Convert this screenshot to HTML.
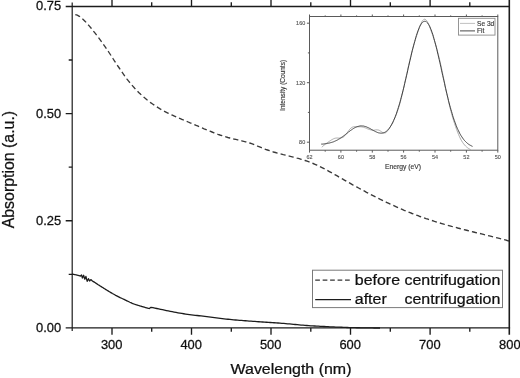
<!DOCTYPE html>
<html lang="en">
<head>
<meta charset="utf-8">
<title>Absorption spectrum</title>
<style>
html,body{margin:0;padding:0;background:#fff;}
body{width:520px;height:378px;overflow:hidden;}
svg{display:block;filter:blur(0.3px);font-family:"Liberation Sans",Arial,Helvetica,sans-serif;}
</style>
</head>
<body>
<svg width="520" height="378" viewBox="0 0 520 378">
<rect width="520" height="378" fill="#fff"/>
<g stroke="#1c1c1c" stroke-width="1.2" fill="none" stroke-linecap="butt">
<path d="M72.2,2.4 V330.9 M65.7,327.9 H510.1"/>
<path d="M65.7,6.4 H509.6" stroke-width="1.5"/>
<path d="M509.3,334.7 V0" stroke-width="1.6"/>
<path d="M112.0,327.9 v6.8 M112.0,6.4 V0 M191.5,327.9 v6.8 M191.5,6.4 V0 M271.0,327.9 v6.8 M271.0,6.4 V0 M350.5,327.9 v6.8 M350.5,6.4 V0 M430.1,327.9 v6.8 M430.1,6.4 V0 M151.7,327.9 v3.8 M151.7,6.4 v-4.1 M231.3,327.9 v3.8 M231.3,6.4 v-4.1 M310.8,327.9 v3.8 M310.8,6.4 v-4.1 M390.3,327.9 v3.8 M390.3,6.4 v-4.1 M469.8,327.9 v3.8 M469.8,6.4 v-4.1 M72.2,220.7 h-6.5 M72.2,113.6 h-6.5 M72.2,274.3 h-3.5 M72.2,167.1 h-3.5 M72.2,60.0 h-3.5" stroke-width="1.35"/>
</g>
<text transform="translate(111.7,348.8) scale(1.06,1)" font-size="12.2" text-anchor="middle" fill="#111" stroke="#111" stroke-width="0.25">300</text>
<text transform="translate(191.2,348.8) scale(1.06,1)" font-size="12.2" text-anchor="middle" fill="#111" stroke="#111" stroke-width="0.25">400</text>
<text transform="translate(270.7,348.8) scale(1.06,1)" font-size="12.2" text-anchor="middle" fill="#111" stroke="#111" stroke-width="0.25">500</text>
<text transform="translate(350.2,348.8) scale(1.06,1)" font-size="12.2" text-anchor="middle" fill="#111" stroke="#111" stroke-width="0.25">600</text>
<text transform="translate(429.8,348.8) scale(1.06,1)" font-size="12.2" text-anchor="middle" fill="#111" stroke="#111" stroke-width="0.25">700</text>
<text transform="translate(509.8,348.8) scale(1.06,1)" font-size="12.2" text-anchor="middle" fill="#111" stroke="#111" stroke-width="0.25">800</text>
<text transform="translate(61.2,332.2) scale(1.06,1)" font-size="12.2" text-anchor="end" fill="#111" stroke="#111" stroke-width="0.25">0.00</text>
<text transform="translate(61.2,225.0) scale(1.06,1)" font-size="12.2" text-anchor="end" fill="#111" stroke="#111" stroke-width="0.25">0.25</text>
<text transform="translate(61.2,117.9) scale(1.06,1)" font-size="12.2" text-anchor="end" fill="#111" stroke="#111" stroke-width="0.25">0.50</text>
<text transform="translate(61.2,10.2) scale(1.06,1)" font-size="12.2" text-anchor="end" fill="#111" stroke="#111" stroke-width="0.25">0.75</text>
<text transform="translate(291.0,374.1) scale(1.065,1)" font-size="15" text-anchor="middle" fill="#111" stroke="#111" stroke-width="0.25">Wavelength (nm)</text>
<text transform="translate(13.6,169.6) rotate(-90)" font-size="15.9" text-anchor="middle" fill="#111" stroke="#111" stroke-width="0.25">Absorption (a.u.)</text>
<polyline points="75.3,14.6 77.3,15.2 79.3,16.3 81.2,17.7 83.2,19.4 85.2,21.4 87.2,23.6 89.2,25.9 91.2,28.3 93.1,30.7 95.1,33.2 97.1,35.8 99.1,38.4 101.1,41.1 103.0,43.8 105.0,46.6 107.0,49.5 109.0,52.5 111.0,55.5 112.9,58.5 114.9,61.6 116.9,64.6 118.9,67.5 120.9,70.5 122.9,73.3 124.8,76.1 126.8,78.8 128.8,81.3 130.8,83.8 132.8,86.1 134.7,88.3 136.7,90.4 138.7,92.4 140.7,94.3 142.7,96.1 144.6,97.8 146.6,99.5 148.6,101.1 150.6,102.6 152.6,104.0 154.6,105.3 156.5,106.6 158.5,107.9 160.5,109.1 162.5,110.2 164.5,111.3 166.4,112.3 168.4,113.3 170.4,114.3 172.4,115.2 174.4,116.1 176.3,117.0 178.3,117.9 180.3,118.7 182.3,119.5 184.3,120.4 186.3,121.2 188.2,122.0 190.2,122.9 192.2,123.7 194.2,124.5 196.2,125.4 198.1,126.2 200.1,127.1 202.1,127.9 204.1,128.8 206.1,129.6 208.0,130.4 210.0,131.2 212.0,132.0 214.0,132.8 216.0,133.5 218.0,134.3 219.9,135.0 221.9,135.6 223.9,136.3 225.9,136.9 227.9,137.5 229.8,138.0 231.8,138.5 233.8,139.0 235.8,139.4 237.8,139.9 239.7,140.3 241.7,140.8 243.7,141.3 245.7,141.8 247.7,142.4 249.7,143.0 251.6,143.7 253.6,144.4 255.6,145.2 257.6,146.1 259.6,146.9 261.5,147.7 263.5,148.5 265.5,149.3 267.5,150.0 269.5,150.7 271.4,151.3 273.4,152.0 275.4,152.5 277.4,153.1 279.4,153.6 281.4,154.1 283.3,154.7 285.3,155.1 287.3,155.6 289.3,156.1 291.3,156.6 293.2,157.1 295.2,157.6 297.2,158.2 299.2,158.7 301.2,159.3 303.1,159.9 305.1,160.5 307.1,161.2 309.1,161.9 311.1,162.7 313.1,163.5 315.0,164.3 317.0,165.2 319.0,166.2 321.0,167.1 323.0,168.1 324.9,169.1 326.9,170.2 328.9,171.3 330.9,172.4 332.9,173.5 334.8,174.6 336.8,175.7 338.8,176.9 340.8,178.0 342.8,179.1 344.8,180.3 346.7,181.4 348.7,182.5 350.7,183.6 352.7,184.8 354.7,185.9 356.6,186.9 358.6,188.0 360.6,189.1 362.6,190.2 364.6,191.2 366.5,192.3 368.5,193.3 370.5,194.4 372.5,195.4 374.5,196.4 376.5,197.4 378.4,198.4 380.4,199.4 382.4,200.3 384.4,201.3 386.4,202.3 388.3,203.2 390.3,204.1 392.3,205.0 394.3,205.9 396.3,206.8 398.2,207.7 400.2,208.6 402.2,209.4 404.2,210.3 406.2,211.1 408.2,211.9 410.1,212.7 412.1,213.5 414.1,214.2 416.1,215.0 418.1,215.7 420.0,216.5 422.0,217.2 424.0,217.9 426.0,218.6 428.0,219.2 429.9,219.9 431.9,220.5 433.9,221.2 435.9,221.8 437.9,222.4 439.9,223.0 441.8,223.6 443.8,224.2 445.8,224.7 447.8,225.3 449.8,225.8 451.7,226.4 453.7,226.9 455.7,227.4 457.7,228.0 459.7,228.5 461.6,229.0 463.6,229.5 465.6,230.0 467.6,230.5 469.6,231.0 471.6,231.5 473.5,232.0 475.5,232.5 477.5,232.9 479.5,233.4 481.5,233.9 483.4,234.4 485.4,234.9 487.4,235.4 489.4,235.9 491.4,236.4 493.3,236.9 495.3,237.4 497.3,237.9 499.3,238.4 501.3,238.9 503.3,239.4 505.2,239.9 507.2,240.5 509.2,241.0" fill="none" stroke="#3a3a3a" stroke-width="1.35" stroke-dasharray="5.2 3.1"/>
<polyline points="72.00,274.10 72.49,274.17 72.97,274.25 73.46,274.33 73.94,274.42 74.43,274.52 74.92,274.61 75.40,274.72 75.89,274.82 76.38,274.93 76.86,275.05 77.35,275.17 77.83,275.29 78.32,275.41 78.81,275.54 79.29,275.67 79.78,275.81 80.40,276.10 81.50,274.90 82.40,278.00 83.60,275.30 84.80,279.20 85.90,276.40 87.20,281.30 88.50,278.70 89.60,281.00 90.80,279.60 92.42,281.05 92.91,281.31 93.39,281.58 93.88,281.86 94.36,282.16 94.85,282.47 95.34,282.79 95.82,283.11 96.31,283.44 96.79,283.77 97.28,284.10 97.77,284.43 98.25,284.75 98.74,285.06 99.23,285.37 99.71,285.68 100.20,285.99 100.68,286.29 101.17,286.60 101.66,286.91 102.14,287.21 102.63,287.52 103.11,287.82 103.60,288.13 104.09,288.43 104.57,288.73 105.06,289.04 105.55,289.34 106.03,289.64 106.52,289.95 107.00,290.25 107.49,290.56 107.98,290.86 108.46,291.16 108.95,291.46 109.43,291.75 109.92,292.05 110.41,292.34 110.89,292.62 111.38,292.90 111.87,293.18 112.35,293.46 112.84,293.73 113.32,294.00 113.81,294.27 114.30,294.53 114.78,294.80 115.27,295.06 115.75,295.32 116.24,295.57 116.73,295.83 117.21,296.08 117.70,296.34 118.19,296.59 118.67,296.83 119.16,297.08 119.64,297.32 120.13,297.57 120.62,297.80 121.10,298.04 121.59,298.28 122.07,298.51 122.56,298.74 123.05,298.97 123.53,299.20 124.02,299.43 124.51,299.66 124.99,299.89 125.48,300.12 125.96,300.35 126.45,300.58 126.94,300.81 127.42,301.05 127.91,301.29 128.39,301.53 128.88,301.77 129.37,302.01 129.85,302.25 130.34,302.48 130.83,302.71 131.31,302.93 131.80,303.15 132.28,303.35 132.77,303.55 133.26,303.74 133.74,303.92 134.23,304.09 134.72,304.26 135.20,304.43 135.69,304.59 136.17,304.75 136.66,304.91 137.15,305.06 137.63,305.21 138.12,305.36 138.60,305.50 139.09,305.65 139.58,305.79 140.06,305.94 140.55,306.08 141.04,306.22 141.52,306.36 142.01,306.51 142.49,306.65 142.98,306.79 143.47,306.94 143.95,307.08 144.44,307.23 144.92,307.37 145.41,307.51 145.90,307.65 146.38,307.79 146.87,307.92 147.36,308.06 147.84,308.20 148.33,308.33 148.81,308.47 149.30,308.60 151.00,307.30 152.92,307.70 154.85,308.10 156.77,308.50 158.70,308.90 160.62,309.30 162.55,309.71 164.47,310.12 166.39,310.54 168.32,310.95 170.24,311.35 172.17,311.72 174.09,312.08 176.02,312.43 177.94,312.77 179.87,313.11 181.79,313.43 183.71,313.74 185.64,314.04 187.56,314.33 189.49,314.60 191.41,314.85 193.34,315.08 195.26,315.31 197.18,315.52 199.11,315.73 201.03,315.94 202.96,316.15 204.88,316.37 206.81,316.61 208.73,316.85 210.66,317.09 212.58,317.35 214.50,317.60 216.43,317.85 218.35,318.10 220.28,318.35 222.20,318.59 224.13,318.83 226.05,319.05 227.97,319.26 229.90,319.46 231.82,319.64 233.75,319.82 235.67,319.99 237.60,320.15 239.52,320.31 241.45,320.46 243.37,320.61 245.29,320.76 247.22,320.90 249.14,321.04 251.07,321.18 252.99,321.32 254.92,321.46 256.84,321.60 258.76,321.74 260.69,321.87 262.61,322.00 264.54,322.12 266.46,322.24 268.39,322.37 270.31,322.49 272.24,322.62 274.16,322.74 276.08,322.87 278.01,323.01 279.93,323.15 281.86,323.30 283.78,323.45 285.71,323.62 287.63,323.79 289.55,323.97 291.48,324.15 293.40,324.34 295.33,324.52 297.25,324.70 299.18,324.88 301.10,325.05 303.03,325.22 304.95,325.37 306.87,325.52 308.80,325.65 310.72,325.78 312.65,325.89 314.57,326.01 316.50,326.12 318.42,326.22 320.34,326.32 322.27,326.42 324.19,326.52 326.12,326.61 328.04,326.70 329.97,326.79 331.89,326.87 333.82,326.95 335.74,327.03 337.66,327.11 339.59,327.19 341.51,327.27 343.44,327.35 345.36,327.42 347.29,327.49 349.21,327.55 351.13,327.61 353.06,327.66 354.98,327.70 356.91,327.73 358.83,327.77 360.76,327.80 362.68,327.83 364.61,327.87 366.53,327.89 368.45,327.92 370.38,327.94 372.30,327.96 374.23,327.98 376.15,327.99 378.08,328.00 380.00,328.00" fill="none" stroke="#1c1c1c" stroke-width="1.3" stroke-linejoin="round"/>
<rect x="312.5" y="270.2" width="190" height="37.4" fill="#fff" stroke="#7a7a7a" stroke-width="1"/>
<path d="M315.2,280.2 H351" stroke="#333" stroke-width="1.25" stroke-dasharray="4.7 2.76" fill="none"/>
<path d="M315.2,299.7 H351" stroke="#1c1c1c" stroke-width="1.3" fill="none"/>
<text transform="translate(354.8,285.1) scale(1.065,1)" font-size="15" text-anchor="start" fill="#111" xml:space="preserve" stroke="#111" stroke-width="0.25">before centrifugation</text>
<text transform="translate(354.8,304.1) scale(1.065,1)" font-size="15" text-anchor="start" fill="#111" xml:space="preserve" stroke="#111" stroke-width="0.25">after    centrifugation</text>
<g stroke="#5a5a5a" stroke-width="1" fill="none">
<rect x="309.5" y="16.5" width="188.3" height="133.7"/>
<path d="M309.5,150.2 v2.4 M309.5,16.5 v-2.0 M325.2,150.2 v1.5 M325.2,16.5 v-1.1 M340.9,150.2 v2.4 M340.9,16.5 v-2.0 M356.6,150.2 v1.5 M356.6,16.5 v-1.1 M372.3,150.2 v2.4 M372.3,16.5 v-2.0 M388.0,150.2 v1.5 M388.0,16.5 v-1.1 M403.6,150.2 v2.4 M403.6,16.5 v-2.0 M419.3,150.2 v1.5 M419.3,16.5 v-1.1 M435.0,150.2 v2.4 M435.0,16.5 v-2.0 M450.7,150.2 v1.5 M450.7,16.5 v-1.1 M466.4,150.2 v2.4 M466.4,16.5 v-2.0 M482.1,150.2 v1.5 M482.1,16.5 v-1.1 M497.8,150.2 v2.4 M497.8,16.5 v-2.0 M309.5,142.2 h-2.6 M309.5,82.7 h-2.6 M309.5,23.2 h-2.6 M309.5,112.4 h-1.6 M309.5,52.9 h-1.6"/>
</g>
<text transform="translate(309.5,159.4) scale(1.05,1)" font-size="5.2" text-anchor="middle" fill="#555" stroke="#555" stroke-width="0.12">62</text>
<text transform="translate(340.9,159.4) scale(1.05,1)" font-size="5.2" text-anchor="middle" fill="#555" stroke="#555" stroke-width="0.12">60</text>
<text transform="translate(372.3,159.4) scale(1.05,1)" font-size="5.2" text-anchor="middle" fill="#555" stroke="#555" stroke-width="0.12">58</text>
<text transform="translate(403.6,159.4) scale(1.05,1)" font-size="5.2" text-anchor="middle" fill="#555" stroke="#555" stroke-width="0.12">56</text>
<text transform="translate(435.0,159.4) scale(1.05,1)" font-size="5.2" text-anchor="middle" fill="#555" stroke="#555" stroke-width="0.12">54</text>
<text transform="translate(466.4,159.4) scale(1.05,1)" font-size="5.2" text-anchor="middle" fill="#555" stroke="#555" stroke-width="0.12">52</text>
<text transform="translate(497.8,159.4) scale(1.05,1)" font-size="5.2" text-anchor="middle" fill="#555" stroke="#555" stroke-width="0.12">50</text>
<text transform="translate(305.2,144.1) scale(1.05,1)" font-size="5.2" text-anchor="end" fill="#555" stroke="#555" stroke-width="0.12">80</text>
<text transform="translate(305.2,84.6) scale(1.05,1)" font-size="5.2" text-anchor="end" fill="#555" stroke="#555" stroke-width="0.12">120</text>
<text transform="translate(305.2,25.1) scale(1.05,1)" font-size="5.2" text-anchor="end" fill="#555" stroke="#555" stroke-width="0.12">160</text>
<text transform="translate(403.0,169.0) scale(1.04,1)" font-size="6.5" text-anchor="middle" fill="#3a3a3a" stroke="#3a3a3a" stroke-width="0.15">Energy (eV)</text>
<text transform="translate(285.0,85.4) rotate(-90)" font-size="6.5" text-anchor="middle" fill="#3a3a3a" stroke="#3a3a3a" stroke-width="0.15">Intensity (Counts)</text>
<polyline points="321.8,147.2 322.8,146.3 323.8,145.4 324.8,144.6 325.8,143.8 326.8,143.1 327.8,142.3 328.8,141.7 329.8,141.0 330.8,140.4 331.8,139.7 332.8,139.2 333.8,138.7 334.8,138.3 335.8,138.1 336.8,138.0 337.8,138.0 338.8,138.1 339.8,138.0 340.8,138.0 341.8,137.8 342.8,137.4 343.8,136.7 344.8,135.8 345.8,134.6 346.8,133.3 347.8,131.9 348.8,130.5 349.8,129.2 350.8,128.2 351.8,127.5 352.8,127.0 353.8,126.8 354.8,126.7 355.8,126.7 356.8,126.7 357.8,126.8 358.8,126.8 359.7,126.8 360.7,126.8 361.7,126.9 362.7,127.1 363.7,127.3 364.7,127.7 365.7,128.0 366.7,128.4 367.7,128.9 368.7,129.3 369.7,129.6 370.7,129.9 371.7,130.2 372.7,130.3 373.7,130.2 374.7,130.1 375.7,129.9 376.7,129.8 377.7,129.9 378.7,130.1 379.7,130.5 380.7,131.2 381.7,131.9 382.7,132.5 383.7,132.9 384.7,133.0 385.7,132.7 386.7,131.9 387.7,130.7 388.7,129.3 389.7,127.8 390.7,126.1 391.7,124.3 392.7,122.5 393.7,120.5 394.7,118.3 395.7,116.0 396.7,113.4 397.7,110.6 398.7,107.5 399.7,104.1 400.7,100.5 401.7,96.5 402.7,92.3 403.7,88.0 404.7,83.4 405.7,78.9 406.7,74.2 407.7,69.6 408.7,65.1 409.7,60.7 410.7,56.6 411.7,52.6 412.7,48.8 413.7,45.3 414.7,41.8 415.7,38.6 416.7,35.5 417.7,32.4 418.7,29.5 419.7,26.7 420.7,24.2 421.7,22.1 422.7,20.5 423.7,19.5 424.7,19.2 425.7,19.6 426.7,20.7 427.7,22.4 428.7,24.5 429.7,26.9 430.7,29.6 431.7,32.4 432.7,35.2 433.6,38.2 434.6,41.3 435.6,44.6 436.6,48.1 437.6,51.7 438.6,55.6 439.6,59.7 440.6,64.1 441.6,68.6 442.6,73.3 443.6,78.2 444.6,83.0 445.6,87.9 446.6,92.6 447.6,97.3 448.6,101.7 449.6,106.0 450.6,110.0 451.6,113.7 452.6,117.2 453.6,120.5 454.6,123.6 455.6,126.6 456.6,129.4 457.6,132.1 458.6,134.6 459.6,136.9 460.6,139.0 461.6,140.8 462.6,142.4 463.6,143.8 464.6,145.0 465.6,146.1 466.6,147.0 467.6,147.8 468.6,148.5 469.6,149.1 470.6,149.6" fill="none" stroke="#999" stroke-width="0.8" stroke-linejoin="round"/>
<polyline points="321.2,144.1 321.8,144.1 322.4,144.1 323.0,144.0 323.5,144.0 324.1,143.9 324.7,143.8 325.3,143.7 325.9,143.7 326.5,143.6 327.0,143.5 327.6,143.4 328.2,143.3 328.8,143.1 329.4,143.0 330.0,142.9 330.5,142.7 331.1,142.5 331.7,142.4 332.3,142.2 332.9,142.0 333.5,141.8 334.1,141.5 334.6,141.3 335.2,141.0 335.8,140.8 336.4,140.5 337.0,140.2 337.6,139.9 338.1,139.6 338.7,139.2 339.3,138.9 339.9,138.5 340.5,138.1 341.1,137.7 341.6,137.3 342.2,136.9 342.8,136.5 343.4,136.1 344.0,135.6 344.6,135.2 345.2,134.7 345.7,134.3 346.3,133.8 346.9,133.4 347.5,132.9 348.1,132.4 348.7,132.0 349.2,131.5 349.8,131.1 350.4,130.6 351.0,130.2 351.6,129.8 352.2,129.4 352.7,129.0 353.3,128.6 353.9,128.3 354.5,127.9 355.1,127.6 355.7,127.3 356.3,127.1 356.8,126.8 357.4,126.6 358.0,126.4 358.6,126.3 359.2,126.1 359.8,126.0 360.3,125.9 360.9,125.9 361.5,125.9 362.1,125.9 362.7,126.0 363.3,126.0 363.8,126.1 364.4,126.3 365.0,126.4 365.6,126.6 366.2,126.8 366.8,127.0 367.3,127.3 367.9,127.5 368.5,127.8 369.1,128.1 369.7,128.4 370.3,128.7 370.9,129.0 371.4,129.4 372.0,129.7 372.6,130.0 373.2,130.4 373.8,130.7 374.4,131.0 374.9,131.3 375.5,131.6 376.1,131.9 376.7,132.1 377.3,132.4 377.9,132.6 378.4,132.8 379.0,132.9 379.6,133.0 380.2,133.1 380.8,133.2 381.4,133.2 382.0,133.1 382.5,133.1 383.1,132.9 383.7,132.8 384.3,132.5 384.9,132.3 385.5,131.9 386.0,131.5 386.6,131.1 387.2,130.6 387.8,130.0 388.4,129.4 389.0,128.7 389.5,127.9 390.1,127.1 390.7,126.2 391.3,125.2 391.9,124.1 392.5,123.0 393.1,121.8 393.6,120.5 394.2,119.2 394.8,117.8 395.4,116.3 396.0,114.7 396.6,113.1 397.1,111.4 397.7,109.6 398.3,107.7 398.9,105.8 399.5,103.8 400.1,101.8 400.6,99.7 401.2,97.5 401.8,95.2 402.4,93.0 403.0,90.6 403.6,88.2 404.2,85.8 404.7,83.4 405.3,80.9 405.9,78.4 406.5,75.8 407.1,73.3 407.7,70.7 408.2,68.1 408.8,65.6 409.4,63.0 410.0,60.4 410.6,57.9 411.2,55.4 411.7,53.0 412.3,50.6 412.9,48.2 413.5,45.9 414.1,43.7 414.7,41.5 415.3,39.4 415.8,37.4 416.4,35.5 417.0,33.7 417.6,31.9 418.2,30.3 418.8,28.9 419.3,27.5 419.9,26.2 420.5,25.1 421.1,24.2 421.7,23.3 422.3,22.6 422.8,22.1 423.4,21.7 424.0,21.4 424.6,21.3 425.2,21.3 425.8,21.5 426.4,21.8 426.9,22.3 427.5,22.9 428.1,23.7 428.7,24.6 429.3,25.6 429.9,26.8 430.4,28.1 431.0,29.5 431.6,31.1 432.2,32.8 432.8,34.5 433.4,36.4 433.9,38.4 434.5,40.5 435.1,42.7 435.7,44.9 436.3,47.2 436.9,49.6 437.4,52.0 438.0,54.5 438.6,57.1 439.2,59.6 439.8,62.2 440.4,64.9 441.0,67.5 441.5,70.2 442.1,72.8 442.7,75.5 443.3,78.1 443.9,80.7 444.5,83.3 445.0,85.9 445.6,88.5 446.2,91.0 446.8,93.5 447.4,95.9 448.0,98.3 448.5,100.6 449.1,102.9 449.7,105.1 450.3,107.3 450.9,109.4 451.5,111.4 452.1,113.4 452.6,115.3 453.2,117.2 453.8,119.0 454.4,120.7 455.0,122.3 455.6,123.9 456.1,125.4 456.7,126.9 457.3,128.3 457.9,129.6 458.5,130.8 459.1,132.0 459.6,133.2 460.2,134.2 460.8,135.3 461.4,136.2 462.0,137.1 462.6,138.0 463.2,138.8 463.7,139.5 464.3,140.3 464.9,140.9 465.5,141.5 466.1,142.1 466.7,142.7 467.2,143.2 467.8,143.6 468.4,144.1 469.0,144.5 469.6,144.9 470.2,145.2 470.7,145.5 471.3,145.8 471.9,146.1 472.5,146.4" fill="none" stroke="#333" stroke-width="0.9" stroke-linejoin="round"/>
<rect x="458.5" y="18.3" width="36.5" height="16.8" fill="#fff" stroke="#8a8a8a" stroke-width="0.9"/>
<path d="M460,23.4 H475" stroke="#b0b0b0" stroke-width="0.8"/>
<path d="M460,30.9 H475" stroke="#333" stroke-width="0.9"/>
<text transform="translate(477.0,25.6) scale(1.05,1)" font-size="6.3" text-anchor="start" fill="#3a3a3a" stroke="#3a3a3a" stroke-width="0.15">Se 3d</text>
<text transform="translate(477.0,33.1) scale(1.05,1)" font-size="6.3" text-anchor="start" fill="#3a3a3a" stroke="#3a3a3a" stroke-width="0.15">Fit</text>
</svg>
</body>
</html>
